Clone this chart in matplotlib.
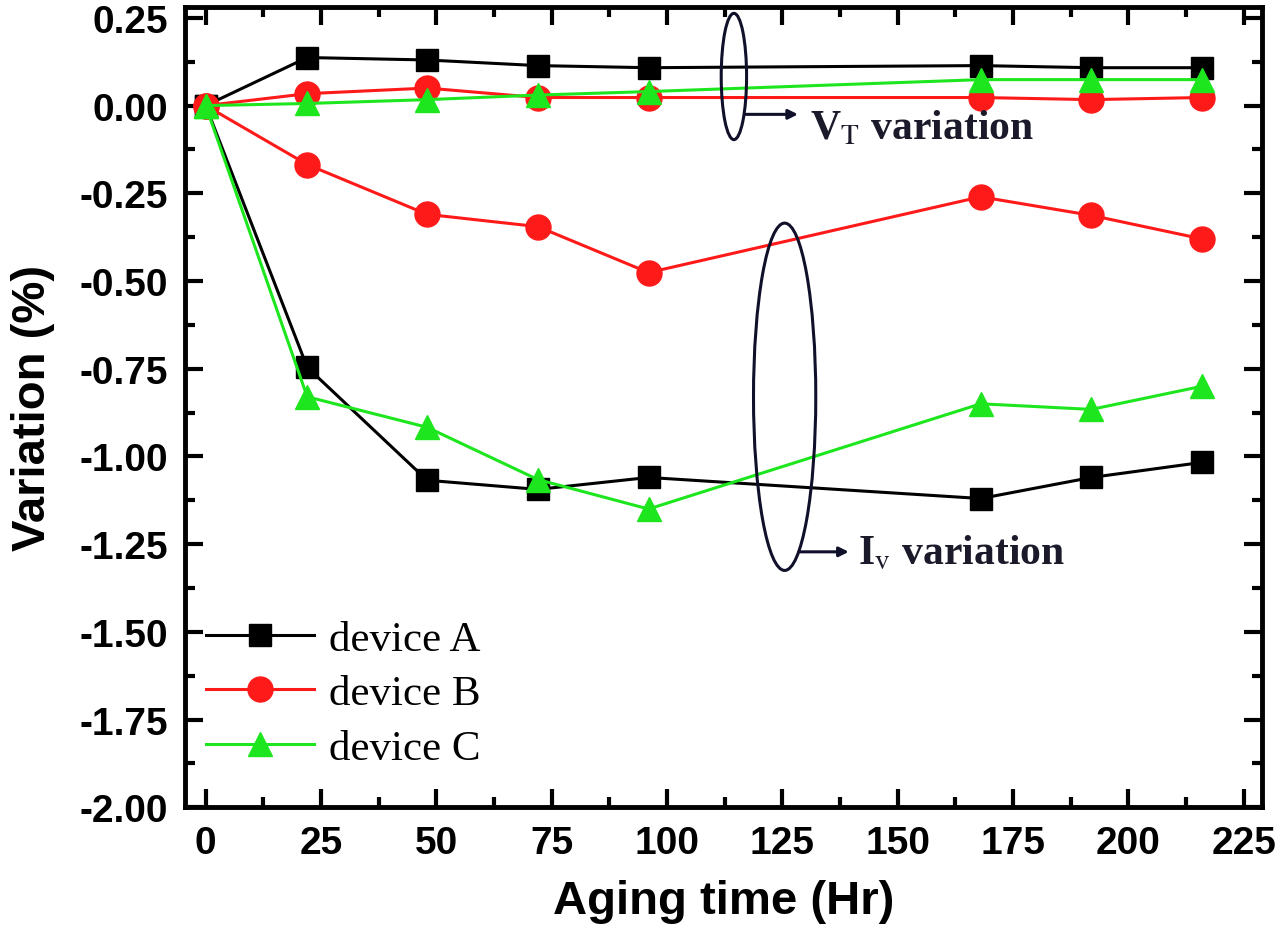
import matplotlib
matplotlib.use("Agg")
import matplotlib.pyplot as plt
from matplotlib.patches import Ellipse
from matplotlib.ticker import MultipleLocator

# ---- data ----
hours = [0, 22, 48, 72, 96, 168, 192, 216]

vt_A = [0.0, 0.137, 0.130, 0.114, 0.108, 0.114, 0.108, 0.108]
vt_B = [0.0, 0.034, 0.050, 0.023, 0.023, 0.023, 0.017, 0.023]
vt_C = [0.0, 0.006, 0.017, 0.030, 0.040, 0.074, 0.074, 0.074]

iv_A = [0.0, -0.746, -1.068, -1.094, -1.060, -1.120, -1.060, -1.017]
iv_B = [0.0, -0.168, -0.310, -0.345, -0.476, -0.260, -0.313, -0.380]
iv_C = [0.0, -0.830, -0.917, -1.066, -1.150, -0.850, -0.866, -0.800]

labels = ["device A", "device B", "device C"]
x_ticks = [0, 25, 50, 75, 100, 125, 150, 175, 200, 225]
y_ticks = [0.25, 0.0, -0.25, -0.5, -0.75, -1.0, -1.25, -1.5, -1.75, -2.0]

# ---- styling ----
plt.rcParams['mathtext.fontset'] = 'stix'
fig = plt.figure(figsize=(12.8, 9.29), dpi=100)
ax = fig.add_axes([0.1445, 0.130, 0.8415, 0.861])

black = '#000000'
red = '#ff1a1a'
green = '#1ee61e'

styles = [
    dict(color=black, marker='s', markersize=16),
    dict(color=red, marker='o', markersize=18),
    dict(color=green, marker='^', markersize=17),
]

vt = [vt_A, vt_B, vt_C]
iv = [iv_A, iv_B, iv_C]
for i in range(3):
    st = styles[i]
    ax.plot(hours, iv[i], color=st['color'], marker=st['marker'],
            markersize=st['markersize'], linewidth=2.2, label=labels[i],
            markeredgecolor=st['color'], zorder=3)
    ax.plot(hours, vt[i], color=st['color'], marker=st['marker'],
            markersize=st['markersize'], linewidth=2.2,
            markeredgecolor=st['color'], zorder=3)

ax.set_xlim(-4.5, 229)
ax.set_ylim(-2.0, 0.28)
ax.xaxis.set_minor_locator(MultipleLocator(12.5))
ax.yaxis.set_minor_locator(MultipleLocator(0.125))
ax.set_xticks(x_ticks)
ax.set_yticks(y_ticks)
ax.set_yticklabels([f"{v:.2f}" for v in y_ticks])
ax.tick_params(which='both', direction='in', top=True, right=True, width=3)
ax.tick_params(which='major', length=13, labelsize=28)
ax.tick_params(axis='x', which='major', pad=13)
ax.tick_params(axis='y', which='major', pad=12)
ax.tick_params(which='minor', length=7)
for lab in ax.get_xticklabels() + ax.get_yticklabels():
    lab.set_fontweight('bold')
    lab.set_family('Liberation Sans')
for sp in ax.spines.values():
    sp.set_linewidth(3.5)

ax.set_xlabel("Aging time (Hr)", fontsize=34, fontweight='bold',
              family='Liberation Sans', labelpad=13)
ax.set_ylabel("Variation (%)", fontsize=34, fontweight='bold',
              family='Liberation Sans', labelpad=18)

# ellipses and annotations
ax.add_patch(Ellipse((114.5, 0.083), 5.5, 0.36, fill=False,
                     edgecolor='#10102a', linewidth=2.2, zorder=4))
ax.annotate("", xy=(129, -0.025), xytext=(116.5, -0.025),
            arrowprops=dict(arrowstyle='-|>', color='#10102a', lw=2.2,
                            mutation_scale=14))
ax.text(131, -0.065, r"V$_{\rm T}$ variation", fontsize=30, fontweight='bold',
        family='Liberation Serif', va='center', ha='left', color='#1a1a2a')

ax.add_patch(Ellipse((125.5, -0.83), 13.5, 0.99, fill=False,
                     edgecolor='#10102a', linewidth=2.2, zorder=4))
ax.annotate("", xy=(140, -1.272), xytext=(128, -1.272),
            arrowprops=dict(arrowstyle='-|>', color='#10102a', lw=2.2,
                            mutation_scale=14))
ax.text(141.5, -1.275, r"I$_{\rm v}$ variation", fontsize=30, fontweight='bold',
        family='Liberation Serif', va='center', ha='left', color='#1a1a2a')

leg = ax.legend(loc='lower left', bbox_to_anchor=(0.0, 0.022), frameon=False,
                prop={'family': 'Liberation Serif', 'size': 31},
                handlelength=2.5, labelspacing=0.36, handletextpad=0.35,
                borderaxespad=0.1)

fig.savefig("out.png", dpi=100)
